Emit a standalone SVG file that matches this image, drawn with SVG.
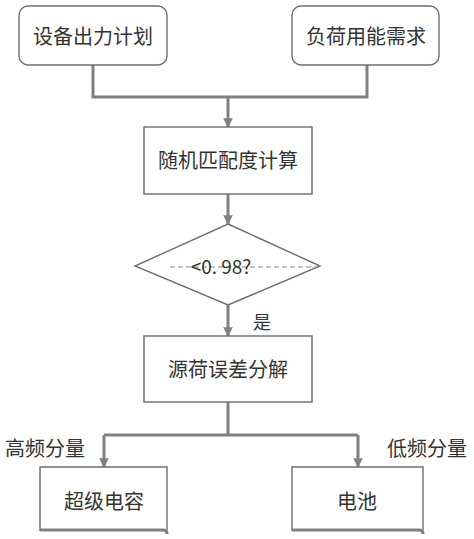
<svg xmlns="http://www.w3.org/2000/svg" width="474" height="539" viewBox="0 0 474 539">
<defs>
<style>
.box{fill:#fff;stroke:#6e6e6e;stroke-width:1.4}
.t{font-family:"Noto Sans CJK SC","Liberation Sans",sans-serif;font-size:20px;fill:#333;text-anchor:middle}
.lbl{font-family:"Noto Sans CJK SC","Liberation Sans",sans-serif;font-size:19px;fill:#333}
.c{fill:none;stroke:#808080;stroke-width:3}
</style>
<marker id="ah" viewBox="0 0 10 10" refX="9" refY="5" markerWidth="3.2" markerHeight="3.2" orient="auto" markerUnits="strokeWidth">
<path d="M0,0 L10,5 L0,10 z" fill="#808080"/>
</marker>
</defs>
<rect width="474" height="539" fill="#fff"/>
<g id="connectors">
<path class="c" d="M93,65 V97 H367 V65"/>
<path class="c" d="M228,97 V127" marker-end="url(#ah)"/>
<path class="c" d="M228,194 V224" marker-end="url(#ah)"/>
<path class="c" d="M228,305 V336" marker-end="url(#ah)"/>
<path class="c" d="M228,402 V435"/>
<path class="c" d="M104,435 H358"/>
<path class="c" d="M104,435 V467" marker-end="url(#ah)"/>
<path class="c" d="M358,435 V467" marker-end="url(#ah)"/>
</g>
<g id="node-plan">
<rect class="box" x="19" y="6" width="148" height="59" rx="9"/>
<text class="t" x="93" y="44">设备出力计划</text>
</g>
<g id="node-load">
<rect class="box" x="292" y="6" width="147" height="59" rx="9"/>
<text class="t" x="366" y="44">负荷用能需求</text>
</g>
<g id="node-match">
<rect class="box" x="144" y="127" width="168" height="67"/>
<text class="t" x="228" y="168">随机匹配度计算</text>
</g>
<g id="node-decision">
<polygon class="box" points="228,224 320,266 228,305 135,266"/>
<line x1="170" y1="267" x2="320" y2="267" stroke="#888" stroke-width="1" stroke-dasharray="5,3"/>
<text class="t" x="221" y="274" style="font-size:19px">&lt;0. 98?</text>
</g>
<text id="label-yes" class="lbl" x="253" y="329" style="font-size:18px">是</text>
<g id="node-decomp">
<rect class="box" x="144" y="336" width="168" height="66"/>
<text class="t" x="228" y="377">源荷误差分解</text>
</g>
<text id="label-high" class="lbl" x="5" y="456" style="font-size:20px">高频分量</text>
<text id="label-low" class="lbl" x="387" y="456" style="font-size:20px">低频分量</text>
<g id="node-cap">
<path class="box" d="M40,531 V467 H167 V531"/>
<path d="M40,530 H163 Q167,530 167,534" fill="none" stroke="#808080" stroke-width="3"/>
<text class="t" x="104" y="509">超级电容</text>
</g>
<g id="node-bat">
<path class="box" d="M292,531 V467 H423 V531"/>
<path d="M292,530 H419 Q423,530 423,534" fill="none" stroke="#808080" stroke-width="3"/>
<text class="t" x="357" y="509">电池</text>
</g>
</svg>
